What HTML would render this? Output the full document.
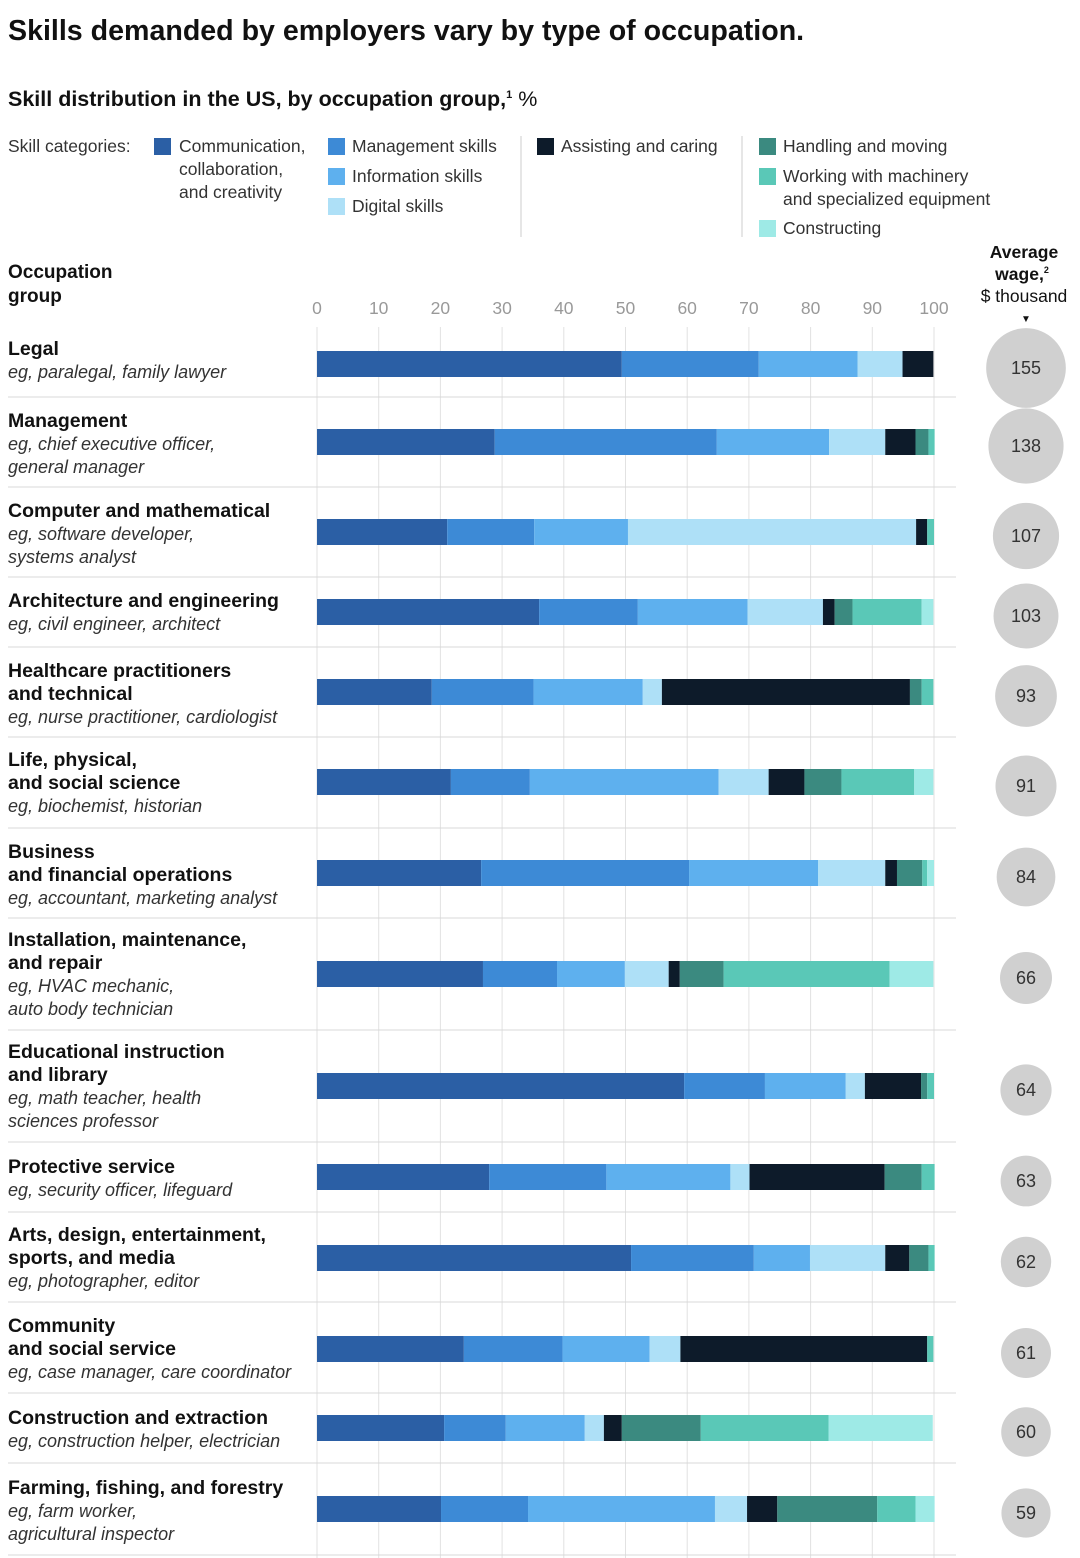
<!DOCTYPE html>
<html><head><meta charset="utf-8"><style>
html,body{margin:0;padding:0;background:#fff;}
svg{display:block;font-family:"Liberation Sans",sans-serif;}
</style></head><body>
<svg id="chart" width="1080" height="1558" viewBox="0 0 1080 1558" xmlns="http://www.w3.org/2000/svg">
<text x="8" y="40" font-size="28.6" font-weight="bold" fill="#111">Skills demanded by employers vary by type of occupation.</text>
<text x="8" y="106" font-size="21.5" font-weight="bold" fill="#111">Skill distribution in the US, by occupation group,<tspan font-size="11" dy="-8">1</tspan><tspan dy="8" font-weight="normal"> %</tspan></text>
<g font-size="17.5" fill="#333">
<text x="8" y="152">Skill categories:</text>
<rect x="154" y="138" width="17" height="17" fill="#2b5fa5"/>
<text x="179" y="152">Communication,</text><text x="179" y="175">collaboration,</text><text x="179" y="198">and creativity</text>
<rect x="328" y="138" width="17" height="17" fill="#3d8ad6"/><text x="352" y="152">Management skills</text>
<rect x="328" y="168" width="17" height="17" fill="#5eb0ee"/><text x="352" y="182">Information skills</text>
<rect x="328" y="198" width="17" height="17" fill="#aee0f7"/><text x="352" y="212">Digital skills</text>
<line x1="521" y1="136" x2="521" y2="237" stroke="#ccc"/>
<rect x="537" y="138" width="17" height="17" fill="#0d1b2a"/><text x="561" y="152">Assisting and caring</text>
<line x1="742" y1="136" x2="742" y2="237" stroke="#ccc"/>
<rect x="759" y="138" width="17" height="17" fill="#3b8a80"/><text x="783" y="152">Handling and moving</text>
<rect x="759" y="168" width="17" height="17" fill="#5ac8b7"/><text x="783" y="182">Working with machinery</text><text x="783" y="205">and specialized equipment</text>
<rect x="759" y="220" width="17" height="17" fill="#9eeae6"/><text x="783" y="234">Constructing</text>
</g>
<text font-size="19" font-weight="bold" fill="#111"><tspan x="8" y="278">Occupation</tspan><tspan x="8" y="302">group</tspan></text>
<g text-anchor="middle" fill="#111">
<text x="1024" y="258" font-size="17.5" font-weight="bold">Average</text>
<text x="1022" y="280" font-size="17.5" font-weight="bold">wage,<tspan font-size="9" dy="-7">2</tspan></text>
<text x="1024" y="302" font-size="17.5">$ thousand</text>
<text x="1026" y="322" font-size="10">▼</text>
</g>
<g id="grid"></g><g id="rows"></g>
</svg>
<script>
const categories=["Legal","Management","Computer and mathematical","Architecture and engineering","Healthcare practitioners and technical","Life, physical, and social science","Business and financial operations","Installation, maintenance, and repair","Educational instruction and library","Protective service","Arts, design, entertainment, sports, and media","Community and social service","Construction and extraction","Farming, fishing, and forestry"];
const communication=[49.4,28.8,21.1,36.0,18.6,21.7,26.6,26.9,59.5,27.9,50.9,23.8,20.6,20.1];
const management=[22.2,36.0,14.1,16.0,16.5,12.8,33.7,12.0,13.1,19.0,19.9,16.0,10.0,14.1];
const information=[16.0,18.2,15.2,17.8,17.7,30.6,20.9,11.0,13.1,20.1,9.1,14.1,12.8,30.3];
const digital=[7.3,9.1,46.7,12.2,3.1,8.1,10.9,7.1,3.1,3.1,12.2,5.0,3.1,5.2];
const assisting=[5.0,4.9,1.8,1.9,40.2,5.8,1.9,1.8,9.1,21.9,3.9,40.0,2.9,4.9];
const handling=[0,2.1,0,2.9,1.9,6.0,4.1,7.1,1.0,6.0,3.1,0,12.8,16.2];
const machinery=[0,1.0,1.1,11.2,1.9,11.8,0.8,26.9,1.1,2.1,1.0,1.0,20.7,6.2];
const constructing=[0,0,0,1.9,0,3.1,1.1,7.1,0,0,0,0,16.9,3.1];
const wages=[155,138,107,103,93,91,84,66,64,63,62,61,60,59];
const ticks=[0,10,20,30,40,50,60,70,80,90,100];
const nameLines=[["Legal"],["Management"],["Computer and mathematical"],["Architecture and engineering"],["Healthcare practitioners","and technical"],["Life, physical,","and social science"],["Business","and financial operations"],["Installation, maintenance,","and repair"],["Educational instruction","and library"],["Protective service"],["Arts, design, entertainment,","sports, and media"],["Community","and social service"],["Construction and extraction"],["Farming, fishing, and forestry"]];
const exampleLines=[["eg, paralegal, family lawyer"],["eg, chief executive officer,","general manager"],["eg, software developer,","systems analyst"],["eg, civil engineer, architect"],["eg, nurse practitioner, cardiologist"],["eg, biochemist, historian"],["eg, accountant, marketing analyst"],["eg, HVAC mechanic,","auto body technician"],["eg, math teacher, health","sciences professor"],["eg, security officer, lifeguard"],["eg, photographer, editor"],["eg, case manager, care coordinator"],["eg, construction helper, electrician"],["eg, farm worker,","agricultural inspector"]];
const series=[communication,management,information,digital,assisting,handling,machinery,constructing];
const seriesNames=["communication","management","information","digital","assisting","handling","machinery","constructing"];
const colors=["#2b5fa5","#3d8ad6","#5eb0ee","#aee0f7","#0d1b2a","#3b8a80","#5ac8b7","#9eeae6"];
const barCenters=[364,442,532,612,692,782,873,974,1086,1177,1258,1349,1428,1509];
const labelTops=[349,421,511,601,671,760,852,940,1052,1167,1235,1326,1418,1488];
const seps=[397,487,577,647,737,828,918,1030,1142,1212,1302,1393,1463,1555];
const NS="http://www.w3.org/2000/svg";
const x=v=>317+v*6.17;
function mk(t,a,p){const e=document.createElementNS(NS,t);for(const k in a)e.setAttribute(k,a[k]);p.appendChild(e);return e;}
const grid=document.getElementById('grid'),rows=document.getElementById('rows');
ticks.forEach(t=>{
 const l=mk('line',{x1:x(t),x2:x(t),y1:327,y2:1558,stroke:'#e2e2e2'},grid);
 
 
 const tx=mk('text',{x:x(t),y:314,'text-anchor':'middle','font-size':17.5,fill:'#999'},grid);
 tx.textContent=t;
 
 
});
seps.forEach(s=>{const l=mk('line',{x1:8,x2:956,y1:s,y2:s,stroke:'#d8d8d8'},grid);
 
 });
categories.forEach((c,i)=>{
 const g=mk('g',{},rows);
 
 
 let y=labelTops[i]+6;
 nameLines[i].forEach(s=>{const t=mk('text',{x:8,y:y,'font-size':19.5,'font-weight':'bold',fill:'#111'},g);t.textContent=s;
  
  y+=23;});
 exampleLines[i].forEach(s=>{const t=mk('text',{x:8,y:y,'font-size':18,'font-style':'italic',fill:'#333'},g);t.textContent=s;
  
  y+=23;});
 let acc=0;
 series.forEach((arr,k)=>{const v=arr[i];if(v>0){const r=mk('rect',{x:x(acc),y:barCenters[i]-13,width:x(acc+v)-x(acc),height:26,fill:colors[k]},g);
  
  }acc+=v;});
 const r=3.2*Math.sqrt(wages[i]);
 const ci=mk('circle',{cx:1026,cy:barCenters[i]+4,r:r,fill:'#d0d0d0'},g);
 
 
 const wt=mk('text',{x:1026,y:barCenters[i]+10,'text-anchor':'middle','font-size':18,fill:'#333'},g);
 wt.textContent=wages[i];
 
 
});
</script>
</body></html>
